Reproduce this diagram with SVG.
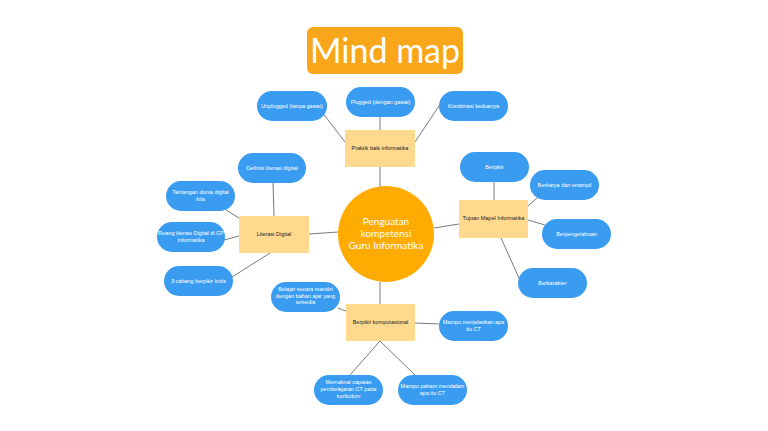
<svg xmlns="http://www.w3.org/2000/svg" width="768" height="431" viewBox="0 0 768 431">
<style>
.p{fill:#3a9cf0}
.r{fill:#ffd98e}
.pt{font-family:"Liberation Sans",sans-serif;font-size:5.5px;fill:#fff;text-anchor:middle}
.rt{font-family:"Liberation Sans",sans-serif;font-size:5.5px;fill:#222;text-anchor:middle}
#connectors line{stroke:#7a7a7a;stroke-width:1}
</style>
<rect width="768" height="431" fill="#fff"/>
<g id="connectors">
<line x1="380" y1="130" x2="380" y2="117"/>
<line x1="345" y1="142" x2="322" y2="112"/>
<line x1="415" y1="142" x2="439" y2="106"/>
<line x1="380" y1="167" x2="380" y2="187"/>
<line x1="309" y1="234" x2="338" y2="232"/>
<line x1="274" y1="216" x2="273" y2="183"/>
<line x1="239" y1="218" x2="226" y2="210"/>
<line x1="239" y1="236" x2="224" y2="240"/>
<line x1="270" y1="253" x2="232" y2="277"/>
<line x1="434" y1="228" x2="459" y2="224"/>
<line x1="494" y1="200" x2="494" y2="182"/>
<line x1="528" y1="206" x2="537" y2="198"/>
<line x1="528" y1="220" x2="545" y2="225"/>
<line x1="501" y1="238" x2="519" y2="278"/>
<line x1="380" y1="282" x2="380" y2="304"/>
<line x1="346" y1="311" x2="338" y2="308"/>
<line x1="415" y1="323" x2="439" y2="324"/>
<line x1="380" y1="341" x2="350" y2="375"/>
<line x1="380" y1="341" x2="415" y2="375"/>
</g>
<g id="title"><rect x="307" y="27" width="156" height="47" rx="6" fill="#f9a61a"/><text x="385" y="63" font-family="Lato,'Liberation Sans',sans-serif" font-size="34" fill="#fff" text-anchor="middle">Mind map</text></g>
<g id="center"><circle cx="386" cy="234" r="48" fill="#ffab00"/><text font-family="Lato,'Liberation Sans',sans-serif" font-size="10" fill="#fff" text-anchor="middle"><tspan x="386" y="225">Penguatan</tspan><tspan x="386" y="237">kompetensi</tspan><tspan x="386" y="249">Guru Informatika</tspan></text></g>
<g id="praktik"><rect class="r" x="345" y="130" width="70" height="37"/><text class="rt" x="380" y="150">Praktik baik informatika</text></g>
<g id="literasi"><rect class="r" x="239" y="216" width="70" height="37"/><text class="rt" x="274" y="236">Literasi Digital</text></g>
<g id="tujuan"><rect class="r" x="459" y="200" width="69" height="38"/><text class="rt" x="493.5" y="220">Tujuan Mapel Informatika</text></g>
<g id="berpikirkomp"><rect class="r" x="346" y="304" width="69" height="37"/><text class="rt" x="380.5" y="324">Berpikir komputasional</text></g>
<g id="unplugged"><rect class="p" x="257" y="91" width="70" height="30" rx="15"/><text class="pt" x="292" y="108">Unplugged (tanpa gawai)</text></g>
<g id="plugged"><rect class="p" x="346" y="87" width="69" height="30" rx="15"/><text class="pt" x="380.5" y="104">Plugged (dengan gawai)</text></g>
<g id="kombinasi"><rect class="p" x="439" y="91" width="69" height="30" rx="15"/><text class="pt" x="473.5" y="108">Kombinasi keduanya</text></g>
<g id="definisi"><rect class="p" x="238" y="153" width="68" height="30" rx="15"/><text class="pt" x="272" y="170">Definisi literasi digital</text></g>
<g id="tantangan"><rect class="p" x="166" y="181" width="69" height="30" rx="15"/><text class="pt"><tspan x="200.5" y="194">Tantangan dunia digital</tspan><tspan x="200.5" y="201">kita</tspan></text></g>
<g id="ruang"><rect class="p" x="157" y="222" width="68" height="30" rx="15"/><text class="pt"><tspan x="191" y="235">Ruang literasi Digital di CP</tspan><tspan x="191" y="242">informatika</tspan></text></g>
<g id="cabang"><rect class="p" x="164" y="266" width="69" height="30" rx="15"/><text class="pt" x="198.5" y="283">3 cabang berpikir kritis</text></g>
<g id="belajar"><rect class="p" x="271" y="282" width="69" height="30" rx="15"/><text class="pt"><tspan x="305.5" y="291">Belajar secara mandiri</tspan><tspan x="305.5" y="297.5">dengan bahan ajar yang</tspan><tspan x="305.5" y="304">tersedia</tspan></text></g>
<g id="menjelaskan"><rect class="p" x="439" y="311" width="69" height="30" rx="15"/><text class="pt"><tspan x="473.5" y="324">Mampu menjelaskan apa</tspan><tspan x="473.5" y="331">itu CT</tspan></text></g>
<g id="memaknai"><rect class="p" x="314" y="375" width="69" height="30" rx="15"/><text class="pt"><tspan x="348.5" y="384">Memaknai capaian</tspan><tspan x="348.5" y="391">pembelajaran CT pada</tspan><tspan x="348.5" y="398">kurikulum</tspan></text></g>
<g id="paham"><rect class="p" x="398" y="375" width="69" height="30" rx="15"/><text class="pt"><tspan x="432.5" y="388">Mampu paham mendalam</tspan><tspan x="432.5" y="395">apa itu CT</tspan></text></g>
<g id="berpikir"><rect class="p" x="460" y="152" width="69" height="30" rx="15"/><text class="pt" x="494.5" y="169">Berpikir</text></g>
<g id="berkarya"><rect class="p" x="530" y="170" width="69" height="30" rx="15"/><text class="pt" x="564.5" y="187">Berkarya dan terampil</text></g>
<g id="berpengetahuan"><rect class="p" x="542" y="219" width="69" height="30" rx="15"/><text class="pt" x="576.5" y="236">Berpengetahuan</text></g>
<g id="berkarakter"><rect class="p" x="518" y="268" width="69" height="30" rx="15"/><text class="pt" x="552.5" y="285">Berkarakter</text></g>
</svg>
